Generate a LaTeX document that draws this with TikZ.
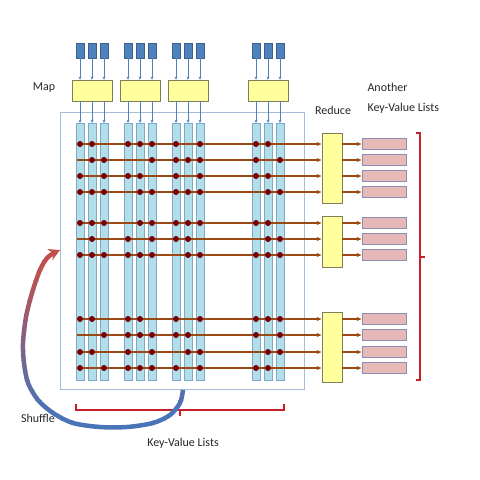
\documentclass[tikz,border=0pt]{standalone}
\usepackage{fontspec}
\setmainfont{Carlito}
\usetikzlibrary{arrows.meta}

\definecolor{inblue}{HTML}{4F81BD}
\definecolor{boxyellow}{HTML}{FFFF9E}
\definecolor{boxedge}{HTML}{7E7E5A}
\definecolor{colfill}{HTML}{B2DEEA}
\definecolor{coledge}{HTML}{7FA8C8}
\definecolor{frameedge}{HTML}{A6BCD8}
\definecolor{rowbrown}{HTML}{9A4A12}
\definecolor{dotred}{HTML}{7A0000}
\definecolor{kvpink}{HTML}{E6B9B8}
\definecolor{kvedge}{HTML}{8A8FB0}
\definecolor{bracketred}{HTML}{C8202A}
\definecolor{shufred}{HTML}{C0504D}
\definecolor{shufblue}{HTML}{4A74B8}

\begin{document}
\begin{tikzpicture}[x=1pt, y=-1pt,
    inbox/.style={rectangle, draw=inblue!75!black, fill=inblue, minimum width=8pt, minimum height=15pt, inner sep=0pt},
    mapbox/.style={rectangle, draw=boxedge, thick, fill=boxyellow, minimum width=40pt, minimum height=21pt, inner sep=0pt},
    column/.style={rectangle, draw=coledge, fill=colfill, minimum width=8pt, minimum height=257pt, inner sep=0pt},
    area/.style={rectangle, draw=frameedge, thick, minimum width=244pt, minimum height=277pt, inner sep=0pt},
    reducebox/.style={rectangle, draw=boxedge, thick, fill=boxyellow, minimum width=20pt, inner sep=0pt},
    kvbox/.style={rectangle, draw=kvedge, thick, fill=kvpink, minimum width=44pt, minimum height=11pt, inner sep=0pt},
    dot/.style={circle, fill=dotred, minimum size=6pt, inner sep=0pt},
    feed/.style={-{Stealth[length=3pt, width=3pt]}, inblue, line width=1pt},
    row/.style={-{Stealth[length=5pt, width=4pt]}, rowbrown, line width=1.2pt},
    bracket/.style={bracketred, line width=1.4pt},
    shuffle/.style={-{Stealth[length=11pt, width=12pt]}, line width=4.5pt},
    txt/.style={font=\fontsize{12}{20}\selectfont, text=black!85}
]
\useasboundingbox (0,0) rectangle (480,480);

% Shuffle area
\node[area] (shufarea) at (182,250.5) {};

% Map boxes
\node[mapbox] (map1) at (92,90.5) {};
\node[mapbox] (map2) at (140,90.5) {};
\node[mapbox] (map3) at (188,90.5) {};
\node[mapbox] (map4) at (268,90.5) {};

% Inputs and columns
\foreach \c/\xx/\g in {1/80/1, 2/92/1, 3/104/1, 4/128/2, 5/140/2, 6/152/2, 7/176/3, 8/188/3, 9/200/3, 10/256/4, 11/268/4, 12/280/4} {
  \node[inbox] (in\c) at (\xx,50.5) {};
  \node[column] (col\c) at (\xx,251.5) {};
  \draw[feed] (in\c) -- (in\c |- map\g.north);
  \draw[feed] (in\c |- map\g.south) -- (col\c.north);
}

% Reduce boxes
\node[reducebox, minimum height=70pt] (red1) at (332,168) {};
\node[reducebox, minimum height=51pt] (red2) at (332,241.5) {};
\node[reducebox, minimum height=70pt] (red3) at (332,347) {};

% Key-value rows
\foreach \r/\yy/\rb/\cols in {
    1/144/1/{1,2,4,5,6,7,9,10,11},
    2/160/1/{2,3,6,7,8,9,10,12},
    3/176/1/{1,3,4,5,7,9,10,11},
    4/192/1/{1,2,3,5,6,7,8,9,11,12},
    5/223/2/{1,2,3,5,6,7,8,9,10,11},
    6/239/2/{2,4,6,7,8,11,12},
    7/255/2/{1,2,3,4,5,6,8,9,10,11,12},
    8/319/3/{1,2,4,5,7,9,10,11,12},
    9/335/3/{3,4,5,6,7,8,10,12},
    10/352/3/{1,2,4,6,8,9,11,12},
    11/368/3/{1,3,4,5,6,7,9,10,11}} {
  \coordinate (rs\r) at (77,\yy);
  \node[kvbox] (kv\r) at (384,\yy) {};
  \draw[row] (rs\r) -- (rs\r -| red\rb.west);
  \draw[row] (red\rb.east |- rs\r) -- (kv\r.west);
  \foreach \c in \cols
    \node[dot] (d\r-\c) at (col\c |- rs\r) {};
}

% Brackets
\draw[bracket] (416,133) -- (420,133) -- (420,380) -- (416,380);
\draw[bracket] (420,257) -- (425,257);
\draw[bracket] (76,404) -- (76,410) -- (284,410) -- (284,404);
\draw[bracket] (180,410) -- (180,416);

% Shuffle arrow
\coordinate (shufstart) at (183,390);
\coordinate (shufend) at (60,250);
\foreach \s in {0,...,20} {
  \pgfmathsetmacro\pr{max(0,min(100,(410-(245+10*\s))/140*100))}
  \begin{scope}
    \clip (0,240+10*\s) rectangle (480,250.6+10*\s);
    \draw[shuffle, shufred!\pr!shufblue] plot[smooth] coordinates {(shufstart) (180,403) (170,415) (153,423) (127,427) (100,427) (73,423) (53,413) (38,400) (28,383) (24,363) (23,343) (26,317) (32,293) (40,270) (48,257) (shufend)};
  \end{scope}
}

% Labels
\node[txt] (maplabel) at (44,88) {Map};
\node[txt] (reducelabel) at (333,110) {Reduce};
\node[txt, align=left, anchor=west] (outlabel) at (364,98) {Another\\Key-Value Lists};
\node[txt] (shuflabel) at (38,418) {Shuffle};
\node[txt] (kvlabel) at (183,443) {Key-Value Lists};

\end{tikzpicture}
\end{document}
